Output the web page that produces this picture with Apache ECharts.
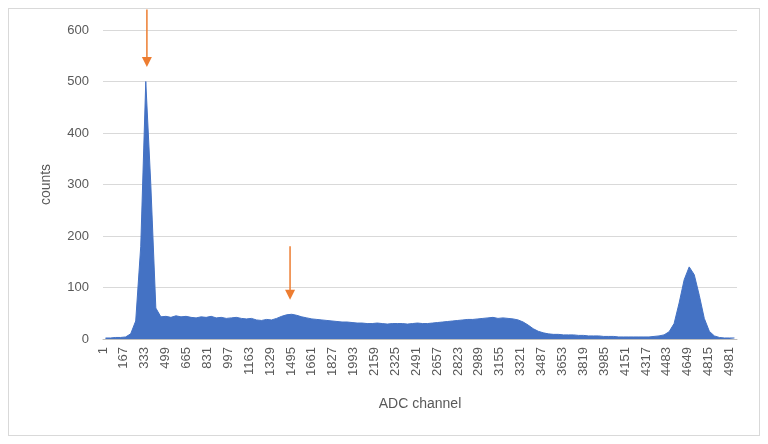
<!DOCTYPE html>
<html>
<head>
<meta charset="utf-8">
<script src="https://cdn.jsdelivr.net/npm/echarts@6/dist/echarts.min.js"></script>
<style>
  html, body { margin: 0; padding: 0; background: #fff; }
  #frame { position: absolute; left: 8px; top: 8px; width: 750px; height: 426px; border: 1px solid #d9d9d9; }
  #chart { position: absolute; left: 0; top: 0; width: 768px; height: 444px; }
</style>
</head>
<body>
<div id="frame"></div>
<div id="chart"></div>
<script>
// histogram, 40 channels per bin, starting at channel 1
var binStart = 1;
var binWidth = 40;
var counts = [
    2, 2, 3, 3, 4,
    10, 35, 180, 500, 300, 60,
    43, 44, 42, 45, 43, 44, 42, 41, 43, 42, 44, 41, 42, 40, 41, 42, 40, 39, 40,
    37, 36, 38, 37, 40,
    44, 47, 48, 46, 43, 41,
    39, 38, 37, 36, 35, 34, 33, 33, 32,
    31, 31, 30, 30, 31, 30, 29, 30, 30, 30, 29, 30, 31, 30, 30, 31, 32, 33,
    34, 35, 36, 37, 38, 38, 39, 40, 41, 42, 40, 41, 40, 39, 37,
    33, 27, 20, 15, 12, 10,
    9, 9, 8, 8, 8, 7, 7, 6, 6, 6,
    5, 5, 5, 4, 4, 4, 4, 4, 4, 4, 5,
    6, 8, 14, 30, 70, 115, 140, 125, 85, 40, 15, 6,
    3, 2, 2, 2
];
// arrows: [channel, from count, to count]
var arrows = [
    [350, 640, 528],
    [1488, 180, 76]
];

var chart = echarts.init(document.getElementById('chart'));
var data = [];
for (var i = 0; i < counts.length; i++) {
    data.push([binStart + i * binWidth + binWidth / 2, counts[i]]);
}

var axisText = { color: '#595959', fontSize: 13, fontFamily: 'Liberation Sans' };

chart.setOption({
    animation: false,
    grid: { left: 103, right: 31, top: 30, bottom: 105 },
    xAxis: {
        type: 'value',
        min: 1,
        max: 5041,
        interval: 166,
        name: 'ADC channel',
        nameLocation: 'middle',
        nameGap: 58,
        nameTextStyle: { color: '#595959', fontSize: 14, fontFamily: 'Liberation Sans' },
        axisLine: { show: true, lineStyle: { color: '#bfbfbf' } },
        axisTick: { show: false },
        splitLine: { show: false },
        axisLabel: Object.assign({ rotate: 90, showMaxLabel: false, margin: 8,
            formatter: function (v) { return String(v); } }, axisText)
    },
    yAxis: {
        type: 'value',
        min: 0,
        max: 600,
        interval: 100,
        name: 'counts',
        nameLocation: 'middle',
        nameGap: 50,
        nameTextStyle: { color: '#595959', fontSize: 14, fontFamily: 'Liberation Sans' },
        axisLine: { show: false },
        axisTick: { show: false },
        splitLine: { lineStyle: { color: '#d9d9d9' } },
        axisLabel: Object.assign({ margin: 14 }, axisText)
    },
    series: [{
        type: 'line',
        data: data,
        symbol: 'none',
        lineStyle: { color: '#4472c4', width: 1 },
        areaStyle: { color: '#4472c4', opacity: 1 }
    }]
});

// orange arrows, placed through the axes
var graphics = [];
arrows.forEach(function (a) {
    var p0 = chart.convertToPixel({ gridIndex: 0 }, [a[0], a[1]]);
    var p1 = chart.convertToPixel({ gridIndex: 0 }, [a[0], a[2]]);
    graphics.push({
        type: 'line', z: 10,
        shape: { x1: p0[0], y1: p0[1], x2: p1[0], y2: p1[1] - 8 },
        style: { stroke: '#ed7d31', lineWidth: 1.5 }
    });
    graphics.push({
        type: 'polygon', z: 10,
        shape: { points: [[p1[0] - 5, p1[1] - 10], [p1[0] + 5, p1[1] - 10], [p1[0], p1[1]]] },
        style: { fill: '#ed7d31' }
    });
});
chart.setOption({ graphic: graphics });
</script>
</body>
</html>
